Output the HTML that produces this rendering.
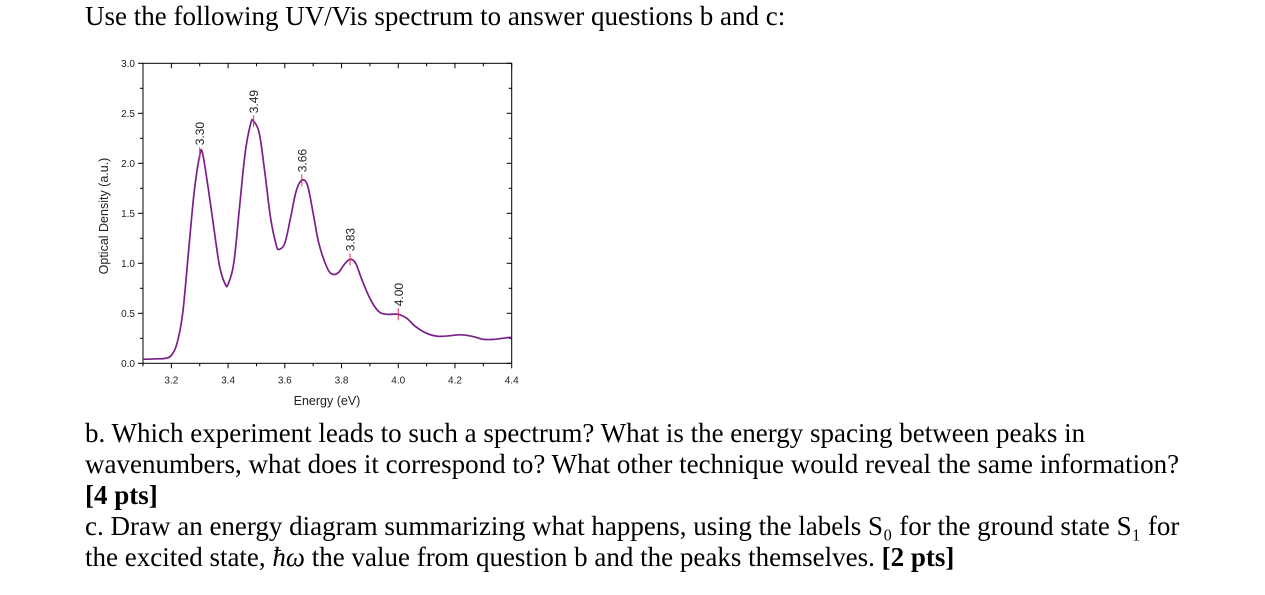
<!DOCTYPE html>
<html><head><meta charset="utf-8"><style>
body{margin:0;width:1265px;height:595px;background:#fff;overflow:hidden;position:relative;font-family:"Liberation Serif",serif;color:#000}
.t{position:absolute;left:85px;font-size:27px;white-space:nowrap;line-height:31px}
</style></head><body>
<div class="t" style="top:1px">Use the following UV/Vis spectrum to answer questions b and c:</div>
<svg id="chart" width="1265" height="595" style="position:absolute;left:0;top:0" font-family="Liberation Sans, sans-serif"></svg>
<div class="t" style="top:418px">b. Which experiment leads to such a spectrum? What is the energy spacing between peaks in<br>wavenumbers, what does it correspond to? What other technique would reveal the same information?<br><b>[4 pts]</b><br>c. Draw an energy diagram summarizing what happens, using the labels S₀ for the ground state S₁ for<br>the excited state, <i>ħω</i> the value from question b and the peaks themselves. <b>[2 pts]</b></div>
<script>
const xData=[3.1,3.15,3.18,3.2,3.22,3.24,3.26,3.28,3.30,3.31,3.33,3.35,3.37,3.39,3.40,3.42,3.44,3.46,3.48,3.49,3.51,3.53,3.55,3.57,3.58,3.60,3.62,3.64,3.66,3.68,3.70,3.72,3.75,3.77,3.79,3.81,3.83,3.85,3.87,3.90,3.93,3.96,4.00,4.03,4.06,4.10,4.14,4.18,4.22,4.26,4.30,4.34,4.38,4.40];
const yData=[0.04,0.045,0.05,0.08,0.2,0.5,1.1,1.7,2.08,2.1,1.75,1.35,0.97,0.79,0.79,1.0,1.55,2.1,2.4,2.42,2.3,1.9,1.45,1.18,1.14,1.2,1.45,1.72,1.83,1.78,1.5,1.2,0.95,0.89,0.91,0.99,1.04,1.0,0.85,0.65,0.52,0.49,0.49,0.45,0.37,0.3,0.27,0.275,0.285,0.27,0.24,0.24,0.255,0.26];
const peakX=[3.30,3.49,3.66,3.83,4.00];
const peakY=[2.1,2.42,1.83,1.04,0.49];
const peakLabels=["3.30","3.49","3.66","3.83","4.00"];
const xTicks=[3.2,3.4,3.6,3.8,4.0,4.2,4.4];
const yTicks=[0.0,0.5,1.0,1.5,2.0,2.5,3.0];
const L=143,R=511.7,T=63.3,B=363.3,x0=3.1,x1=4.4,y0=0,y1=3;
const sx=v=>L+(v-x0)/(x1-x0)*(R-L), sy=v=>B-(v-y0)/(y1-y0)*(B-T);
const svg=document.getElementById('chart');const NS='http://www.w3.org/2000/svg';
function mk(t,a,txt){const e=document.createElementNS(NS,t);for(const k in a)e.setAttribute(k,a[k]);if(txt!=null)e.textContent=txt;svg.appendChild(e);return e;}
let e=mk('rect',{x:L,y:T,width:R-L,height:B-T,fill:'none',stroke:'#000','stroke-width':1});


for(let v=3.1;v<=4.401;v+=0.1){const big=Math.abs((v*10)%2)<0.01||Math.abs((v*10)%2-2)<0.01;const X=sx(v),len=big?5:3;
mk('line',{x1:X,x2:X,y1:B,y2:B+len,stroke:'#000'});mk('line',{x1:X,x2:X,y1:T,y2:T+len,stroke:'#000'});}
for(let v=0;v<=3.001;v+=0.25){const big=Math.abs(v*2-Math.round(v*2))<0.01;const Y=sy(v),len=big?5:3;
mk('line',{x1:L-len,x2:L,y1:Y,y2:Y,stroke:'#000'});mk('line',{x1:R-len,x2:R,y1:Y,y2:Y,stroke:'#000'});}
xTicks.forEach(v=>{e=mk('text',{x:sx(v),y:B+20,'font-size':10,'text-anchor':'middle',fill:'#222'},v.toFixed(1));

});
yTicks.forEach(v=>{e=mk('text',{x:L-8,y:sy(v)+3.5,'font-size':10,'text-anchor':'end',fill:'#222'},v.toFixed(1));

});
e=mk('text',{x:327,y:405,'font-size':12.5,'text-anchor':'middle',fill:'#222'},'Energy (eV)');


e=mk('text',{x:0,y:0,'font-size':12.5,'text-anchor':'middle',fill:'#222',transform:'translate(108,216) rotate(-90)'},'Optical Density (a.u.)');


const P=xData.map((x,i)=>[sx(x),sy(yData[i])]);
let d='M'+P[0][0]+','+P[0][1];
for(let i=0;i<P.length-1;i++){const p0=P[i-1]||P[i],p1=P[i],p2=P[i+1],p3=P[i+2]||p2;
d+=`C${p1[0]+(p2[0]-p0[0])/6},${p1[1]+(p2[1]-p0[1])/6} ${p2[0]-(p3[0]-p1[0])/6},${p2[1]-(p3[1]-p1[1])/6} ${p2[0]},${p2[1]}`;}
e=mk('path',{d:d,fill:'none',stroke:'#7a1f8a','stroke-width':1.7});


peakX.forEach((v,i)=>{const X=sx(v),Y=sy(peakY[i]);
mk('line',{x1:X,x2:X,y1:Y-6,y2:Y+6,stroke:'#e0304a','stroke-width':1});
e=mk('text',{x:0,y:0,'font-size':12,fill:'#222',transform:`translate(${X+4.5},${Y-8}) rotate(-90)`},peakLabels[i]);

});
</script>
</body></html>
